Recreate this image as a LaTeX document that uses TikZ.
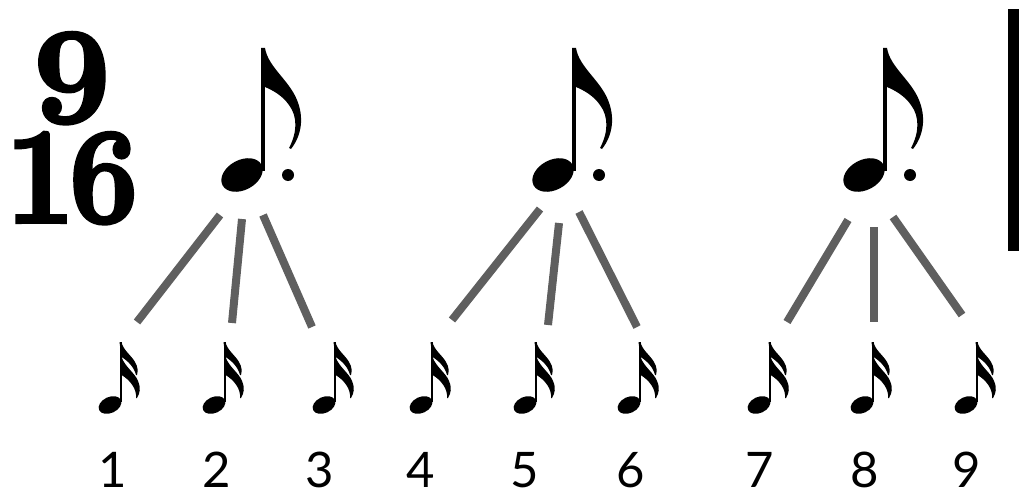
\documentclass[tikz,border=0pt]{standalone}
\usepackage{graphicx}
\usepackage{fontspec}
\newfontfamily\numfont{Lato}
\newfontfamily\tsfont[BoldFeatures={FakeBold=3}]{Latin Modern Roman}
\definecolor{linegray}{HTML}{5F5F5F}
\begin{document}
\begin{tikzpicture}[x=1pt,y=-1pt]
\useasboundingbox (0,0) rectangle (1024,500);
\tikzset{
  connector/.style={draw=linegray, line width=8pt},
  numlabel/.style={anchor=base, inner sep=0pt, font=\numfont\fontsize{49}{49}\selectfont},
  tslabel/.style={anchor=base, inner sep=0pt, text height=88pt, text depth=0pt,
    font=\tsfont\bfseries\fontsize{136}{136}\selectfont},
  pics/dottedeighth/.style={code={
    \fill[rotate=28] (0,0) ellipse [x radius=22, y radius=15];
    \fill (19,-127) rectangle (23,-4);
    \fill (19,-127) -- (23,-127) .. controls (26,-108) and (47,-95) .. (55,-75)
      .. controls (62,-58) and (60,-40) .. (49,-26) -- (47,-27)
      .. controls (55,-42) and (56,-58) .. (47,-70)
      .. controls (40,-80) and (30,-85) .. (23,-88) -- cycle;
    \fill (46,0) circle [radius=6];
  }},
  pics/sixteenth/.style={code={
    \fill[rotate=25] (0,0) ellipse [x radius=12, y radius=8];
    \fill (9.5,-63) rectangle (11.5,-3);
    \fill (9.5,-63) -- (11.5,-63) .. controls (13,-55) and (21,-50) .. (25,-43)
      .. controls (28,-38) and (28,-34) .. (27,-30) -- (26,-30)
      .. controls (24,-38) and (18,-44) .. (11.5,-48) -- cycle;
    \fill (11.5,-48) .. controls (15,-38) and (25,-32) .. (28,-24)
      .. controls (31,-17) and (30,-12) .. (27,-7) -- (26,-7)
      .. controls (27,-16) and (20,-25) .. (11.5,-30) -- cycle;
  }}
}
% time signature
\node[tslabel] (tsnum) at (72,122) {9};
\node[tslabel] (tsden) at (72,222) {\scalebox{0.9}[1]{1\kern-6pt6}};
% barline
\fill (1008,9) rectangle (1019,251);
% dotted eighth notes
\pic (big1) at (242,175) {dottedeighth};
\pic (big2) at (553,175) {dottedeighth};
\pic (big3) at (864,175) {dottedeighth};
% sixteenth notes
\foreach \hx [count=\i] in {110,214,324,421,525,629,759,862,966}
  \pic (small\i) at (\hx,405) {sixteenth};
% connector end points
\coordinate (t1a) at (220,215); \coordinate (b1a) at (137,322);
\coordinate (t1b) at (242,219); \coordinate (b1b) at (232,323);
\coordinate (t1c) at (263,215); \coordinate (b1c) at (312,327);
\coordinate (t2a) at (540,209); \coordinate (b2a) at (452,320);
\coordinate (t2b) at (559,223); \coordinate (b2b) at (548,325);
\coordinate (t2c) at (579,212); \coordinate (b2c) at (637,327);
\coordinate (t3a) at (848,220); \coordinate (b3a) at (787,322);
\coordinate (t3b) at (874,227); \coordinate (b3b) at (874,322);
\coordinate (t3c) at (893,217); \coordinate (b3c) at (962,315);
\foreach \g in {1,2,3}
  \foreach \s in {a,b,c}
    \draw[connector] (t\g\s) -- (b\g\s);
% beat numbers
\node[numlabel] (n1) at (113,487) {1};
\node[numlabel] (n2) at (217,487) {2};
\node[numlabel] (n3) at (320,487) {3};
\node[numlabel] (n4) at (421,487) {4};
\node[numlabel] (n5) at (525,487) {5};
\node[numlabel] (n6) at (631,487) {6};
\node[numlabel] (n7) at (760,487) {7};
\node[numlabel] (n8) at (865,487) {8};
\node[numlabel] (n9) at (967,487) {9};
\end{tikzpicture}
\end{document}
